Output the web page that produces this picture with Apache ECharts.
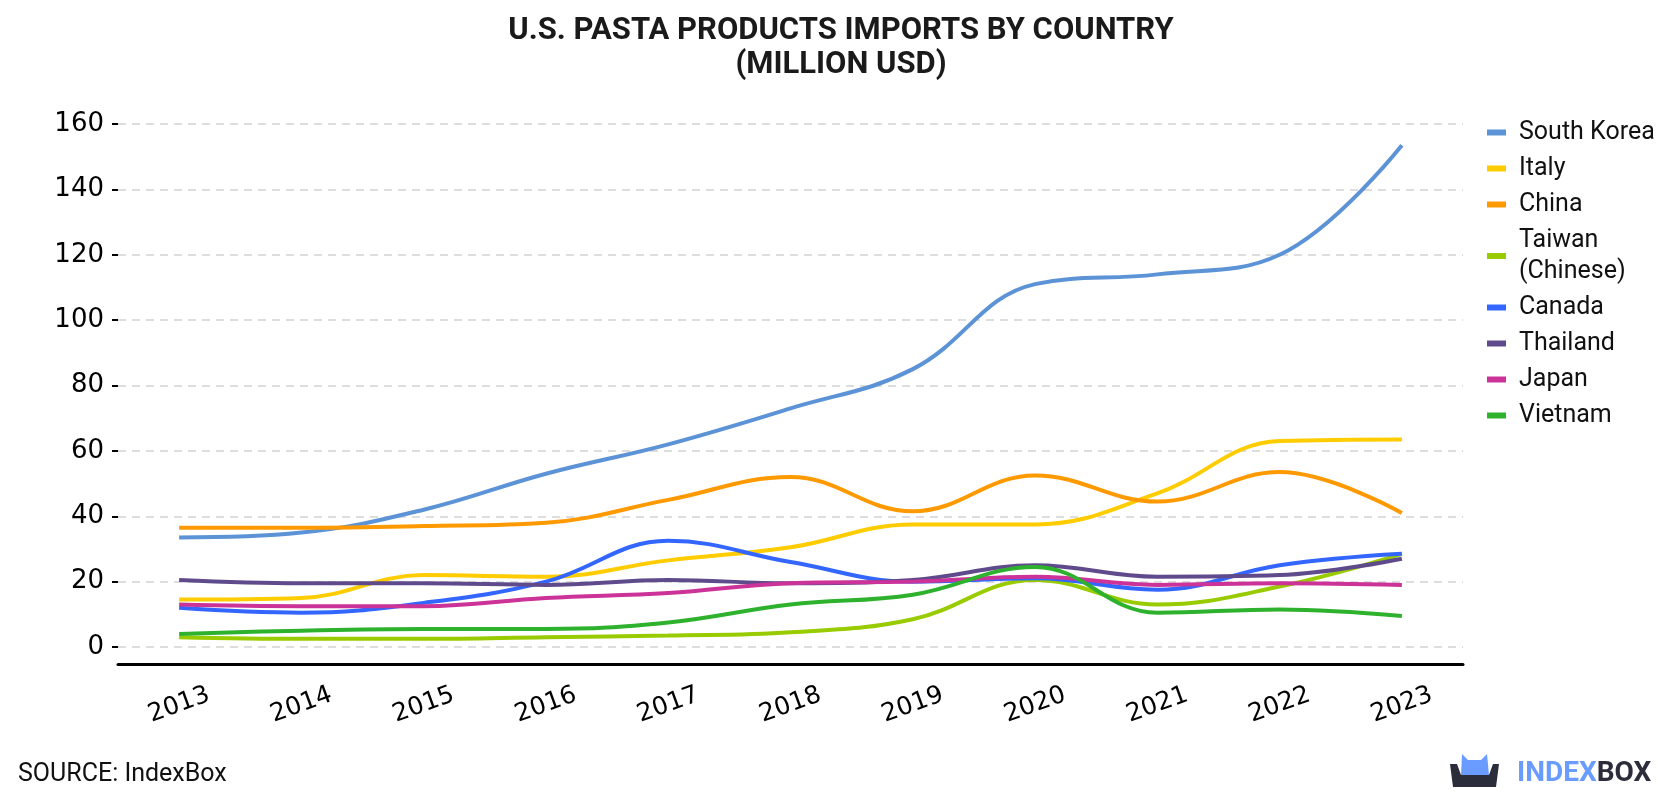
<!DOCTYPE html>
<html lang="en">
<head>
    <meta charset="UTF-8">
    <title>U.S. Pasta Products Imports by Country</title>
    <script src="https://cdn.jsdelivr.net/npm/echarts@6/dist/echarts.min.js"></script>
    <style>
        html, body { margin: 0; padding: 0; background: #fff; }
    </style>
</head>
<body>
<div id="main" style="width: 1680px;height:800px;"></div>
</body>
</html>

<script type="text/javascript">
    // years on the x axis
    var years = ['2013', '2014', '2015', '2016', '2017', '2018', '2019', '2020', '2021', '2022', '2023'];

    // values, million USD
    var southKorea = [33.5, 35, 42, 53, 62, 73, 85, 111, 114, 120, 153.5];
    var italy      = [14.5, 15, 22, 21.5, 26.5, 30.5, 37.5, 37.5, 47, 63, 63.5];
    var china      = [36.5, 36.5, 37, 38, 45, 52, 41.5, 52.5, 44.5, 53.5, 41];
    var taiwan     = [3, 2.5, 2.5, 3, 3.5, 4.5, 8.5, 20.5, 13, 18.5, 28.5];
    var canada     = [12, 10.5, 13.5, 20, 32.5, 26, 20, 21, 17.5, 25, 28.5];
    var thailand   = [20.5, 19.5, 19.5, 19, 20.5, 19.5, 20.5, 25, 21.5, 22, 27];
    var japan      = [13, 12.5, 12.5, 15, 16.5, 19.5, 20, 21.5, 19, 19.5, 19];
    var vietnam    = [4, 5, 5.5, 5.5, 7.5, 13, 16, 24.5, 10.5, 11.5, 9.5];

    var names  = ['South Korea', 'Italy', 'China', 'Taiwan (Chinese)', 'Canada', 'Thailand', 'Japan', 'Vietnam'];
    var colors = ['#5b93d6', '#ffcc00', '#ff9900', '#99cc00', '#3366ff', '#5f4b8b', '#cc3399', '#2eb22e'];
    var values = [southKorea, italy, china, taiwan, canada, thailand, japan, vietnam];

    var series = [];
    for (var i = 0; i < names.length; i++) {
        series.push({
            name: names[i],
            type: 'line',
            data: values[i],
            smooth: 0.4,
            symbol: 'none',
            lineStyle: {width: 4, color: colors[i]},
            itemStyle: {color: colors[i]}
        });
    }

    var myChart = echarts.init(document.getElementById('main'));
    var option = {
        backgroundColor: '#fff',
        title: {
            text: 'U.S. PASTA PRODUCTS IMPORTS BY COUNTRY\n(MILLION USD)',
            left: 836,
            textAlign: 'center',
            top: 9,
            textStyle: {
                fontFamily: 'Roboto',
                fontWeight: 'bold',
                fontSize: 31,
                lineHeight: 34,
                color: '#1a1a1a'
            }
        },
        legend: {
            orient: 'vertical',
            left: 1482,
            top: 112,
            itemWidth: 19,
            itemHeight: 6,
            itemGap: 5,
            icon: 'rect',
            formatter: function (name) {
                return name.replace(' (', '\n(');
            },
            textStyle: {
                fontFamily: 'Roboto',
                fontSize: 25,
                lineHeight: 31,
                padding: [0, 0, 0, 8],
                color: '#111'
            },
            data: names
        },
        grid: {
            left: 118,
            right: 217,
            top: 124,
            bottom: 153,
            containLabel: false
        },
        xAxis: {
            type: 'category',
            data: years,
            boundaryGap: true,
            offset: 17,
            axisLine: {onZero: false, lineStyle: {color: '#000', width: 3}},
            axisTick: {alignWithLabel: true, length: 9, lineStyle: {color: '#000', width: 2}},
            axisLabel: {
                rotate: 20,
                align: 'center',
                margin: 41,
                fontFamily: 'DejaVu Sans',
                fontSize: 25,
                color: '#000'
            }
        },
        yAxis: {
            type: 'value',
            min: 0,
            max: 160,
            interval: 20,
            axisLine: {show: false},
            axisTick: {show: true, length: 6, lineStyle: {color: '#000', width: 2}},
            axisLabel: {
                margin: 14,
                fontFamily: 'DejaVu Sans',
                fontSize: 26,
                color: '#000'
            },
            splitLine: {lineStyle: {color: '#dddddd', width: 2, type: [8, 6]}}
        },
        graphic: [
            {
                type: 'text',
                left: 18,
                top: 762,
                style: {text: 'SOURCE: IndexBox', fontFamily: 'Roboto', fontSize: 25, fill: '#111'}
            },
            {
                type: 'polygon',
                shape: {points: [[1450, 764], [1457, 764], [1461, 775], [1489, 775], [1493, 764], [1499, 764], [1496, 787], [1453, 787]]},
                style: {fill: '#2b2d3a'}
            },
            {
                type: 'polygon',
                shape: {points: [[1461, 775], [1462, 754], [1468, 760], [1481, 760], [1487, 754], [1489, 775]]},
                style: {fill: '#6a9cff'}
            },
            {
                type: 'text',
                left: 1517,
                top: 760,
                style: {
                    text: '{a|INDEX}{b|BOX}',
                    rich: {
                        a: {fontFamily: 'Roboto', fontWeight: 'bold', fontSize: 28, fill: '#6a9cff'},
                        b: {fontFamily: 'Roboto', fontWeight: 'bold', fontSize: 28, fill: '#2b2d3a'}
                    }
                }
            }
        ],
        series: series
    };

    myChart.setOption(option);
</script>
